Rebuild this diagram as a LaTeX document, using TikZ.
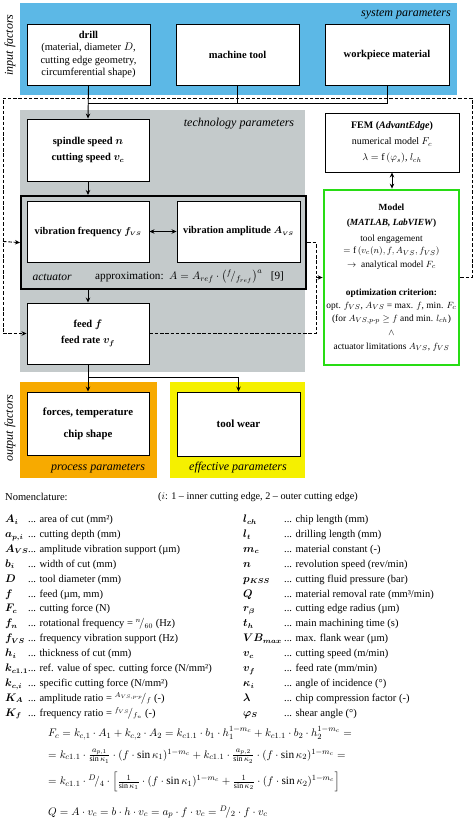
\documentclass[tikz,border=0pt]{standalone}
\usepackage{amsmath}
\usepackage{fontspec}
\setmainfont{Liberation Serif}
\usetikzlibrary{arrows.meta}
\definecolor{sysblue}{RGB}{92,184,230}
\definecolor{techgray}{RGB}{196,202,203}
\definecolor{procorange}{RGB}{247,170,0}
\definecolor{effyellow}{RGB}{245,240,0}
\definecolor{modelgreen}{RGB}{40,220,20}
\tikzset{
  region/.style={inner sep=0pt, anchor=north west},
  box/.style={draw, line width=0.9pt, fill=white, inner sep=1pt, align=center,
    font=\fontsize{10.5}{12.3}\selectfont},
  boldbox/.style={box, font=\bfseries\boldmath\fontsize{10.5}{16}\selectfont},
  arr/.style={-{Stealth[length=5pt,width=4.5pt]}, line width=0.9pt},
  darr/.style={{Stealth[length=5pt,width=4.5pt]}-{Stealth[length=5pt,width=4.5pt]}, line width=0.9pt},
  solid line/.style={line width=0.9pt},
  dsh/.style={dash pattern=on 3.5pt off 1.8pt, line width=0.9pt},
  rlabel/.style={font=\itshape\fontsize{12}{14}\selectfont, inner sep=0pt},
  nomen/.style={inner sep=0pt, anchor=north west, font=\fontsize{10.5}{14.9}\selectfont},
  formula/.style={inner sep=0pt, anchor=west, font=\fontsize{11.3}{13}\selectfont}
}
\newcommand{\nsym}[1]{\makebox[23pt][l]{$\boldsymbol{#1}$}}
\newcommand{\nsymr}[1]{\makebox[41pt][l]{$\boldsymbol{#1}$}}
\begin{document}
\begin{tikzpicture}[x=1pt,y=-1pt]
\useasboundingbox (0,0) rectangle (474,829);
% regions
\node[region, fill=sysblue, minimum width=437, minimum height=92] (sys) at (20,3) {};
\node[region, fill=techgray, minimum width=285, minimum height=262] (tech) at (20,110) {};
\node[region, fill=procorange, minimum width=137, minimum height=96] (proc) at (20,382) {};
\node[region, fill=effyellow, minimum width=135, minimum height=96] (eff) at (170,382) {};
\node[region, draw, line width=2.2pt, minimum width=285, minimum height=93] (act) at (20,195) {};
% region labels
\node[rlabel, anchor=east] (syslab) at (451,14) {system parameters};
\node[rlabel] (techlab) at (239,124) {technology parameters};
\node[rlabel] (proclab) at (98,468) {process parameters};
\node[rlabel] (efflab) at (238,468) {effective parameters};
\node[rlabel, rotate=90] (inlab) at (10,45) {input factors};
\node[rlabel, rotate=90] (outlab) at (10,428) {output factors};
% boxes
\node[box, minimum width=123, minimum height=61] (drill) at (88.5,54.5)
  {{\bfseries\fontsize{10.5}{12.3}\selectfont drill}\\(material, diameter $D$,\\cutting edge geometry,\\circumferential shape)};
\node[boldbox, minimum width=123, minimum height=61] (machine) at (237.5,54.5) {machine tool};
\node[boldbox, minimum width=124, minimum height=61] (work) at (387,54.5) {workpiece material};
\node[boldbox, minimum width=122, minimum height=62] (spindle) at (88,150) {spindle speed $n$\\cutting speed $v_c$};
\node[boldbox, minimum width=122, minimum height=61, font=\bfseries\fontsize{10.3}{16}\selectfont] (vfreq) at (88,231.5) {vibration frequency $\boldsymbol{f_{\scriptscriptstyle VS}}$};
\node[boldbox, minimum width=123, minimum height=61, font=\bfseries\fontsize{10.3}{16}\selectfont] (vamp) at (238.5,231.5) {vibration amplitude $\boldsymbol{A_{\scriptscriptstyle VS}}$};
\node[boldbox, minimum width=122, minimum height=61] (feed) at (88,333.5) {feed $f$\\feed rate $v_f$};
\node[boldbox, minimum width=122, minimum height=63, font=\bfseries\fontsize{10.8}{22}\selectfont] (forces) at (88,423.5) {forces, temperature\\chip shape};
\node[boldbox, minimum width=123, minimum height=64, font=\bfseries\fontsize{11}{16}\selectfont] (wear) at (238.5,424) {tool wear};
\node[box, minimum width=134, minimum height=59, font=\fontsize{10}{16}\selectfont] (fem) at (392,142.5)
  {\textbf{FEM (\textit{AdvantEdge})}\\numerical model $F_c$\\$\lambda = \mathrm{f}\,(\varphi_s)$, $l_{ch}$};
\node[box, draw=modelgreen, line width=2.8pt, minimum width=135, minimum height=175, font=\fontsize{9.4}{13}\selectfont] (model) at (391.5,277.5)
  {\textbf{Model}\\[2pt]
   \textbf{(\textit{MATLAB, LabVIEW})}\\[2.5pt]
   tool engagement\\[-0.5pt]
   $=\mathrm{f}\,(v_c(n), f, A_{VS}, f_{VS})$\\[0.5pt]
   $\rightarrow$\ \ analytical model $F_c$\\[15pt]
   \textbf{optimization criterion:}\\
   opt. $f_{VS}$, $A_{VS}$ = max. $f$, min. $F_c$\\
   (for $A_{VS,p\text{-}p} \geq f$ and min. $l_{ch}$)\\[1.5pt]
   $\wedge$\\[0.5pt]
   actuator limitations $A_{VS}$, $f_{VS}$};
% actuator labels
\node[rlabel, font=\itshape\fontsize{11.5}{14}\selectfont] (actlab) at (52,277) {actuator};
\node[inner sep=0pt, anchor=west, font=\fontsize{11.2}{13}\selectfont] (approx) at (95,277)
  {approximation:\ \ $A = A_{ref}\cdot\left({}^{f}\!/_{f_{ref}}\right)^{a}$\ \ \ [9]};
% solid connectors
\coordinate (j1) at (88,103);
\coordinate (j2) at (88,377);
\draw[arr] (drill.south) -- (spindle.north);
\draw[solid line] (machine.south) |- (j1);
\draw[solid line] (work.south) |- (j1);
\draw[arr] (spindle.south) -- (spindle.south |- act.north);
\draw[darr] (vfreq.east) -- (vamp.west);
\draw[arr] (act.south -| feed.north) -- (feed.north);
\draw[arr] (feed.south) -- (forces.north);
\draw[arr] (j2) -| (wear.north);
\draw[darr] (fem.south) -- (fem.south |- model.north);
% dashed connectors
\coordinate (j3) at (316,277.5);
\coordinate (r1) at (472,277.5);
\coordinate (r2) at (472,98);
\coordinate (l1) at (3,98);
\coordinate (l2) at (3,241.5);
\coordinate (l3) at (3,333.5);
\draw[dsh] (act.east) -| (j3);
\draw[dsh] (feed.east) -| (j3);
\draw[dsh, arr] (j3) -- (model.west);
\draw[dsh] (model.east) -- (r1) -- (r2) -- (l1) -- (l3);
\draw[dsh, arr] (l2) -- (act.west);
\draw[dsh, arr] (l3) -- (feed.west);
% nomenclature
\node[inner sep=0pt, anchor=west, font=\fontsize{10.5}{12}\selectfont] (nomtitle) at (5,497) {Nomenclature:};
\node[inner sep=0pt, anchor=west, font=\fontsize{10.2}{12}\selectfont] (nomnote) at (158,497) {($i$: 1 – inner cutting edge, 2 – outer cutting edge)};
\node[nomen] (nomleft) at (5,511.9) {\begin{tabular}{@{}l@{}}
\nsym{A_i}... area of cut (mm²)\\
\nsym{a_{p,i}}... cutting depth (mm)\\
\nsym{A_{VS}}... amplitude vibration support (µm)\\
\nsym{b_i}... width of cut (mm)\\
\nsym{D}... tool diameter (mm)\\
\nsym{f}... feed (µm, mm)\\
\nsym{F_c}... cutting force (N)\\
\nsym{f_n}... rotational frequency = $^{n}\!/_{60}$ (Hz)\\
\nsym{f_{VS}}... frequency vibration support (Hz)\\
\nsym{h_i}... thickness of cut (mm)\\
\nsym{k_{c1.1}}... ref. value of spec. cutting force (N/mm²)\\
\nsym{k_{c,i}}... specific cutting force (N/mm²)\\
\nsym{K_A}... amplitude ratio = $^{A_{VS,p\text{-}p}}\!/_{f}$ (-)\\
\nsym{K_f}... frequency ratio = $^{f_{VS}}\!/_{f_n}$ (-)
\end{tabular}};
\node[nomen] (nomright) at (243,511.9) {\begin{tabular}{@{}l@{}}
\nsymr{l_{ch}}... chip length (mm)\\
\nsymr{l_t}... drilling length (mm)\\
\nsymr{m_c}... material constant (-)\\
\nsymr{n}... revolution speed (rev/min)\\
\nsymr{p_{KSS}}... cutting fluid pressure (bar)\\
\nsymr{Q}... material removal rate (mm³/min)\\
\nsymr{r_\beta}... cutting edge radius (µm)\\
\nsymr{t_h}... main machining time (s)\\
\nsymr{VB_{max}}... max. flank wear (µm)\\
\nsymr{v_c}... cutting speed (m/min)\\
\nsymr{v_f}... feed rate (mm/min)\\
\nsymr{\kappa_i}... angle of incidence (°)\\
\nsymr{\lambda}... chip compression factor (-)\\
\nsymr{\varphi_S}... shear angle (°)
\end{tabular}};
% formulas
\node[formula] (fc1) at (48,733) {$F_c = k_{c,1}\cdot A_1 + k_{c,2}\cdot A_2 = k_{c1.1}\cdot b_1\cdot h_1^{1-m_c} + k_{c1.1}\cdot b_2\cdot h_2^{1-m_c} =$};
\node[formula] (fc2) at (48,756) {$= k_{c1.1}\cdot \frac{a_{p,1}}{\sin\kappa_1}\cdot (f\cdot\sin\kappa_1)^{1-m_c} + k_{c1.1}\cdot\frac{a_{p,2}}{\sin\kappa_2}\cdot(f\cdot\sin\kappa_2)^{1-m_c} =$};
\node[formula] (fc3) at (48,782) {$= k_{c1.1}\cdot {}^{D}\!/_{4}\cdot\left[\frac{1}{\sin\kappa_1}\cdot(f\cdot\sin\kappa_1)^{1-m_c} + \frac{1}{\sin\kappa_2}\cdot(f\cdot\sin\kappa_2)^{1-m_c}\right]$};
\node[formula] (qf) at (48,812) {$Q = A\cdot v_c = b\cdot h\cdot v_c = a_p\cdot f\cdot v_c = {}^{D}\!/_{2}\cdot f\cdot v_c$};
\end{tikzpicture}
\end{document}
